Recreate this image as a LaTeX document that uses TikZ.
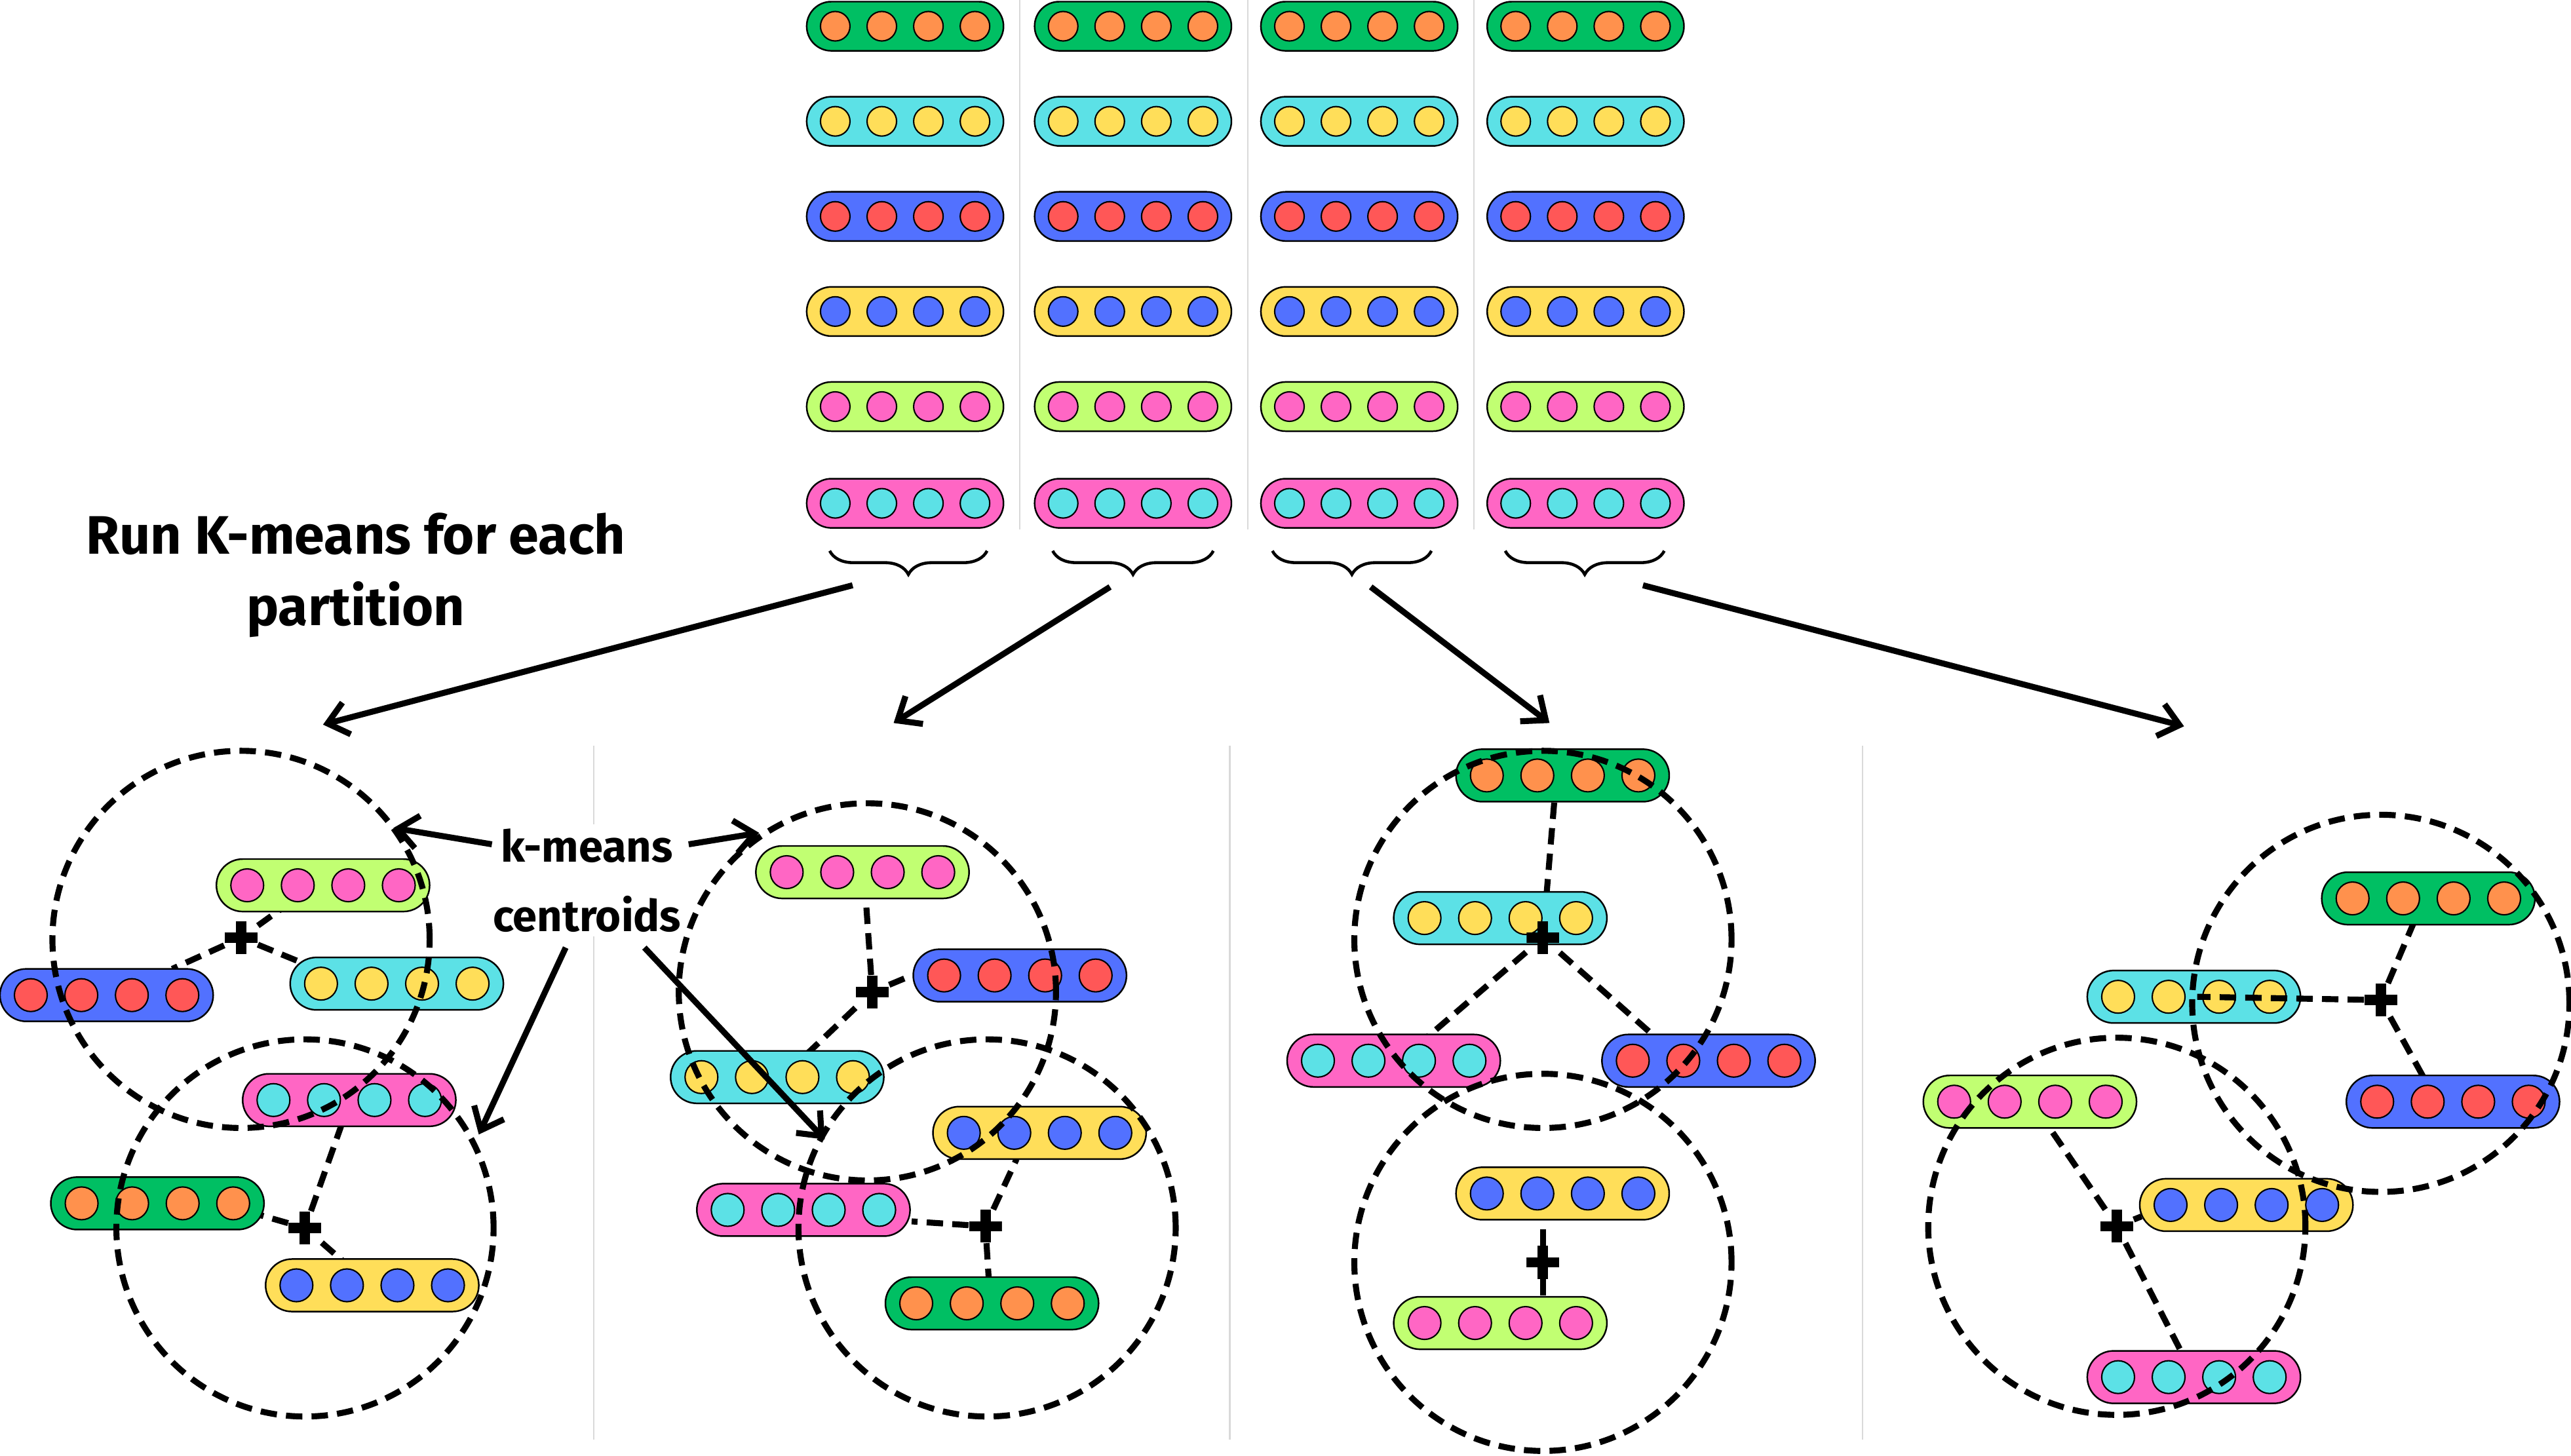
\documentclass[tikz,border=0pt]{standalone}
\usepackage{fontspec}
\setmainfont{Fira Sans}
\usetikzlibrary{shapes.misc,arrows.meta,decorations.pathreplacing}
\definecolor{cgreen}{HTML}{00BF63}
\definecolor{corange}{HTML}{FF914D}
\definecolor{ccyan}{HTML}{5CE1E6}
\definecolor{cyellow}{HTML}{FFDE59}
\definecolor{cblue}{HTML}{5271FF}
\definecolor{cred}{HTML}{FF5757}
\definecolor{clime}{HTML}{C1FF72}
\definecolor{cpink}{HTML}{FF66C4}
\tikzset{
 tpill/.style={rounded rectangle,draw=black,line width=0.7pt,minimum width=3cm,minimum height=0.75cm,inner sep=0},
 bpill/.style={rounded rectangle,draw=black,line width=0.7pt,minimum width=3.25cm,minimum height=0.8cm,inner sep=0},
 tdot/.style={circle,draw=black,line width=0.6pt,minimum size=0.45cm,inner sep=0},
 bdot/.style={circle,draw=black,line width=0.6pt,minimum size=0.5cm,inner sep=0},
 clus/.style={draw=black,line width=2.6pt,dash pattern=on 0.25cm off 0.14cm},
 link/.style={draw=black,line width=2.6pt,dash pattern=on 0.25cm off 0.14cm},
 sep/.style={draw=black!15,line width=0.6pt},
 arr/.style={draw=black,line width=2.6pt,-{Straight Barb[length=0.3cm,width=0.5cm,line width=2.6pt]}},
 brc/.style={draw=black,line width=1.3pt,decorate,decoration={brace,mirror,amplitude=0.36cm}},
 plus/.style={minimum size=0.5cm,inner sep=0,path picture={
   \draw[line width=4.5pt] (path picture bounding box.north) -- (path picture bounding box.south)
     (path picture bounding box.west) -- (path picture bounding box.east);}},
 lbl/.style={font=\bfseries\fontsize{19}{30}\selectfont,align=center},
 ttl/.style={font=\bfseries\fontsize{23.5}{31}\selectfont,align=center}
}
\newcommand\tp[5]{\node[tpill,fill=#4] (#1) at (#2,#3) {};
 \foreach \k [count=\i] in {-1.5,-0.5,0.5,1.5} \node[tdot,fill=#5] (#1d\i) at ([xshift=\k*0.71cm]#1.center) {};}
\newcommand\bp[5]{\node[bpill,fill=#4] (#1) at (#2,#3) {};
 \foreach \k [count=\i] in {-1.5,-0.5,0.5,1.5} \node[bdot,fill=#5] (#1d\i) at ([xshift=\k*0.77cm]#1.center) {};}
\begin{document}
\begin{tikzpicture}[x=0.025cm,y=-0.025cm]
\useasboundingbox (0,0) rectangle (1568,888);
% separators
\draw[sep] (622,0) -- (622,323) (761,0) -- (761,323) (899,0) -- (899,323);
\draw[sep] (362,455) -- (362,878) (750,455) -- (750,878) (1136,455) -- (1136,878);
% top grid
\foreach \x [count=\c] in {552,691,829,967}{
 \tp{t1\c}{\x}{16}{cgreen}{corange}
 \tp{t2\c}{\x}{74}{ccyan}{cyellow}
 \tp{t3\c}{\x}{132}{cblue}{cred}
 \tp{t4\c}{\x}{190}{cyellow}{cblue}
 \tp{t5\c}{\x}{248}{clime}{cpink}
 \tp{t6\c}{\x}{307}{cpink}{ccyan}
}
% braces
\draw[brc] (506,336) -- (602,336);
\draw[brc] (642,336) -- (740,336);
\draw[brc] (776,336) -- (873,336);
\draw[brc] (918,336) -- (1015,336);
\coordinate (s1) at (520,357); \coordinate (e1) at (197,442);
\coordinate (s2) at (677,358); \coordinate (e2) at (545,441);
\coordinate (s3) at (836,358); \coordinate (e3) at (945,441);
\coordinate (s4) at (1002,357); \coordinate (e4) at (1332,443);
\draw[arr] (s1) -- (e1); \draw[arr] (s2) -- (e2);
\draw[arr] (s3) -- (e3); \draw[arr] (s4) -- (e4);
\node[ttl] (title) at (217,351) {Run K-means for each\\partition};
% centroids
\node[plus] (c1) at (147,572) {}; \node[plus] (c2) at (186,749) {};
\node[plus] (c3) at (532,605) {}; \node[plus] (c4) at (601,748) {};
\node[plus] (c5) at (941,572) {}; \node[plus] (c6) at (941,770) {};
\node[plus] (c7) at (1452,610) {}; \node[plus] (c8) at (1291,748) {};
% links (behind pills)
\coordinate (a1l) at (172,554); \coordinate (a2l) at (105,591); \coordinate (a3l) at (186,588);
\coordinate (a4l) at (208,687); \coordinate (a5l) at (158,741); \coordinate (a6l) at (210,770);
\draw[link] (c1) -- (a1l); \draw[link] (c1) -- (a2l); \draw[link] (c1) -- (a3l);
\draw[link] (c2) -- (a4l); \draw[link] (c2) -- (a5l); \draw[link] (c2) -- (a6l);
\coordinate (b1l) at (528,548); \coordinate (b2l) at (556,595); \coordinate (b3l) at (492,643);
\coordinate (b4l) at (620,707); \coordinate (b5l) at (556,745); \coordinate (b6l) at (603,780);
\draw[link] (c3) -- (b1l); \draw[link] (c3) -- (b2l); \draw[link] (c3) -- (b3l);
\draw[link] (c4) -- (b4l); \draw[link] (c4) -- (b5l); \draw[link] (c4) -- (b6l);
\coordinate (g1l) at (948,488); \coordinate (g3l) at (870,633); \coordinate (g4l) at (1010,633);
\coordinate (g5l) at (941,744); \coordinate (g6l) at (941,792);
\draw[link] (c5) -- (g1l); \draw[link] (c5) -- (g3l); \draw[link] (c5) -- (g4l);
\draw[link] (c6) -- (g5l); \draw[link] (c6) -- (g6l);
\coordinate (h1l) at (1472,563); \coordinate (h2l) at (1340,608); \coordinate (h3l) at (1478,657);
\coordinate (h4l) at (1250,688); \coordinate (h5l) at (1306,742); \coordinate (h6l) at (1330,824);
\draw[link] (c7) -- (h1l); \draw[link] (c7) -- (h3l);
\draw[link] (c8) -- (h4l); \draw[link] (c8) -- (h5l); \draw[link] (c8) -- (h6l);
% panel pills
\bp{a1}{197}{540}{clime}{cpink}
\bp{a2}{65}{607}{cblue}{cred}
\bp{a3}{242}{600}{ccyan}{cyellow}
\bp{a4}{213}{671}{cpink}{ccyan}
\bp{a5}{96}{734}{cgreen}{corange}
\bp{a6}{227}{784}{cyellow}{cblue}
\bp{b1}{526}{532}{clime}{cpink}
\bp{b2}{622}{595}{cblue}{cred}
\bp{b3}{474}{657}{ccyan}{cyellow}
\bp{b4}{634}{691}{cyellow}{cblue}
\bp{b5}{490}{738}{cpink}{ccyan}
\bp{b6}{605}{795}{cgreen}{corange}
\bp{g1}{953}{473}{cgreen}{corange}
\bp{g2}{915}{560}{ccyan}{cyellow}
\bp{g3}{850}{647}{cpink}{ccyan}
\bp{g4}{1042}{647}{cblue}{cred}
\bp{g5}{953}{728}{cyellow}{cblue}
\bp{g6}{915}{807}{clime}{cpink}
\bp{h1}{1481}{548}{cgreen}{corange}
\bp{h2}{1338}{608}{ccyan}{cyellow}
\bp{h3}{1496}{672}{cblue}{cred}
\bp{h4}{1238}{672}{clime}{cpink}
\bp{h5}{1370}{735}{cyellow}{cblue}
\bp{h6}{1338}{840}{cpink}{ccyan}
\draw[link] (c7) -- (h2l);
% cluster circles
\node[circle,clus,minimum size=5.75cm,inner sep=0] (k1) at (147,573) {};
\node[circle,clus,minimum size=5.75cm,inner sep=0] (k2) at (186,749) {};
\node[circle,clus,minimum size=5.75cm,inner sep=0] (k3) at (529,605) {};
\node[circle,clus,minimum size=5.75cm,inner sep=0] (k4) at (602,749) {};
\node[circle,clus,minimum size=5.75cm,inner sep=0] (k5) at (941,573) {};
\node[circle,clus,minimum size=5.75cm,inner sep=0] (k6) at (941,770) {};
\node[circle,clus,minimum size=5.75cm,inner sep=0] (k7) at (1452,612) {};
\node[circle,clus,minimum size=5.75cm,inner sep=0] (k8) at (1291,748) {};
% redraw plus on top
\node[plus] (c1b) at (c1) {}; \node[plus] (c2b) at (c2) {};
\node[plus] (c3b) at (c3) {}; \node[plus] (c4b) at (c4) {};
\node[plus] (c5b) at (c5) {}; \node[plus] (c6b) at (c6) {};
\node[plus] (c7b) at (c7) {}; \node[plus] (c8b) at (c8) {};
% label
\node[lbl,fill=white,inner sep=2pt] (km) at (358,537) {k-means\\centroids};
\coordinate (q1) at (300,515); \coordinate (r1) at (240,505);
\coordinate (q2) at (420,515); \coordinate (r2) at (463,508);
\coordinate (q3) at (345,578); \coordinate (r3) at (292,692);
\coordinate (q4) at (393,578); \coordinate (r4) at (503,695);
\draw[arr] (q1) -- (r1); \draw[arr] (q2) -- (r2);
\draw[arr] (q3) -- (r3); \draw[arr] (q4) -- (r4);
\end{tikzpicture}
\end{document}
